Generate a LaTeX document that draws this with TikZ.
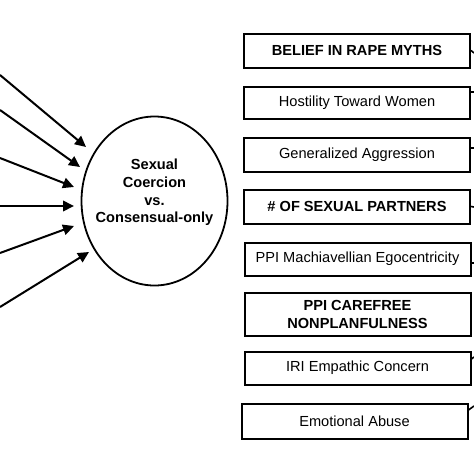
\documentclass[tikz,border=0pt]{standalone}
\usepackage{fontspec}
\setmainfont{Liberation Sans}
\usetikzlibrary{shapes.geometric,arrows.meta}
\begin{document}
\begin{tikzpicture}[x=1pt,y=-1pt,
  box/.style={draw,line width=2pt,rectangle,minimum width=226pt,inner sep=0pt,align=center,font=\fontsize{14.6}{18}\selectfont},
  boldbox/.style={box,font=\fontsize{14.6}{18}\selectfont\bfseries},
  arr/.style={line width=2pt,-{Triangle[length=11pt,width=10.5pt]}},
  stub/.style={line width=1.6pt}]
\useasboundingbox (0,0) rectangle (474,474);
% ellipse
\node[draw,ellipse,line width=1.8pt,minimum width=146pt,minimum height=169pt,inner sep=0pt] (ell) at (154.5,201) {};
\node[align=center,font=\fontsize{14.6}{17.7}\selectfont\bfseries,inner sep=0pt] (etext) at (154.5,192.5) {Sexual\\Coercion\\vs.\\Consensual-only};
% arrows in
\coordinate (s1) at (0,75);   \coordinate (e1) at (86,147);
\coordinate (s2) at (0,110);  \coordinate (e2) at (80,167);
\coordinate (s3) at (0,158);  \coordinate (e3) at (74,187);
\coordinate (s4) at (0,206);  \coordinate (e4) at (74,206);
\coordinate (s5) at (0,253);  \coordinate (e5) at (74,226);
\coordinate (s6) at (0,307);  \coordinate (e6) at (89,252);
\foreach \i in {1,...,6} {\draw[arr] (s\i) -- (e\i);}
% boxes
\node[boldbox,minimum height=34pt] (b1) at (357,50.5) {BELIEF IN RAPE MYTHS};
\node[box,minimum height=32pt] (b2) at (357,102.5) {Hostility Toward Women};
\node[box,minimum height=34pt] (b3) at (357,154.5) {\raisebox{-2.5pt}{Generalized Aggression}};
\node[boldbox,minimum height=34pt] (b4) at (357,206.5) {\# OF SEXUAL PARTNERS};
\node[box,minimum height=33pt] (b5) at (357.5,259) {PPI Machiavellian Egocentricity};
\node[boldbox,minimum height=43pt] (b6) at (357.5,314) {PPI CAREFREE\\NONPLANFULNESS};
\node[box,minimum height=33pt] (b7) at (357.5,368) {IRI Empathic Concern};
\node[box,minimum height=35pt] (b8) at (354.5,421) {\raisebox{-4pt}{Emotional Abuse}};
% stubs leaving to the right
\coordinate (r1) at (474,53);
\coordinate (r2) at (474,92);
\coordinate (r3) at (474,148);
\coordinate (r4) at (474,207);
\coordinate (r5) at (474,263);
\coordinate (r7) at (474,357);
\coordinate (r8) at (474,406);
\draw[stub] (b1.east) -- (r1);
\draw[stub] (b2.east |- r2) -- (r2);
\draw[stub] (b3.east |- r3) -- (r3);
\draw[stub] (b4.east) -- (r4);
\draw[stub] (b5.east |- r5) -- (r5);
\draw[stub] (b7.east |- r7) ++(0,2) -- (r7);
\draw[stub] (b8.east |- r8) ++(0,4) -- (r8);
\end{tikzpicture}
\end{document}
